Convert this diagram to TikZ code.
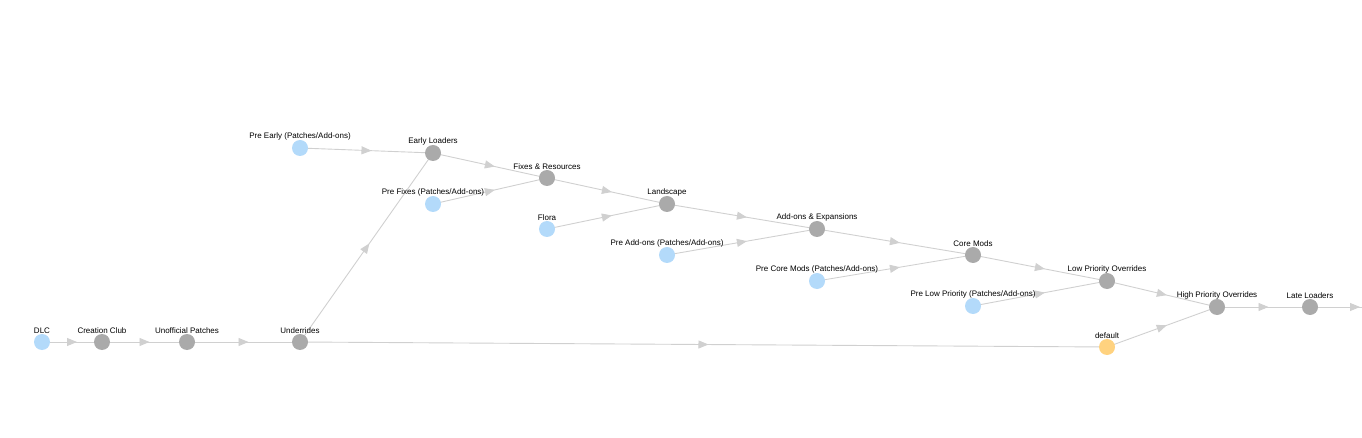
\documentclass[tikz,border=0pt]{standalone}
\usepackage{fontspec}
\setmainfont{Liberation Sans}
\usetikzlibrary{arrows.meta,decorations.markings}
\definecolor{nblue}{RGB}{179,218,250}
\definecolor{ngray}{RGB}{170,170,170}
\definecolor{norange}{RGB}{255,210,127}
\definecolor{edgec}{RGB}{208,208,208}
\begin{document}
\begin{tikzpicture}[x=1pt,y=-1pt,
  dot/.style={circle,minimum size=16pt,inner sep=0pt,draw=none},
  bdot/.style={dot,fill=nblue},
  gdot/.style={dot,fill=ngray},
  odot/.style={dot,fill=norange},
  lbl/.style={font=\fontsize{8pt}{9pt}\selectfont,inner sep=0pt,anchor=center},
  edge/.style={draw=edgec,line width=0.9pt,postaction={decorate},
    decoration={markings,mark=at position 0.5 with {\arrow[xshift=5pt]{Triangle[length=10pt,width=8pt,fill=edgec,color=edgec]}}}}
]
\useasboundingbox (0,0) rectangle (1362,438);
\clip (0,0) rectangle (1362,438);
% node positions
\coordinate (dlc) at (42,342);
\coordinate (cc) at (102,342);
\coordinate (up) at (187,342);
\coordinate (ud) at (300,342);
\coordinate (pe) at (300,148);
\coordinate (el) at (433,153);
\coordinate (pf) at (433,204);
\coordinate (fr) at (547,178);
\coordinate (fl) at (547,229);
\coordinate (ls) at (667,204);
\coordinate (pa) at (667,255);
\coordinate (ae) at (817,229);
\coordinate (pc) at (817,281);
\coordinate (cm) at (973,255);
\coordinate (pl) at (973,306);
\coordinate (lp) at (1107,281);
\coordinate (df) at (1107,347);
\coordinate (hp) at (1217,307);
\coordinate (ll) at (1310,307);
\coordinate (off) at (1400,307);
% edges
\path[edge] (dlc) -- (cc);
\path[edge] (cc) -- (up);
\path[edge] (up) -- (ud);
\path[edge] (ud) -- (el);
\path[edge] (ud) -- (df);
\path[edge] (pe) -- (el);
\path[edge] (el) -- (fr);
\path[edge] (pf) -- (fr);
\path[edge] (fr) -- (ls);
\path[edge] (fl) -- (ls);
\path[edge] (ls) -- (ae);
\path[edge] (pa) -- (ae);
\path[edge] (ae) -- (cm);
\path[edge] (pc) -- (cm);
\path[edge] (cm) -- (lp);
\path[edge] (pl) -- (lp);
\path[edge] (lp) -- (hp);
\path[edge] (df) -- (hp);
\path[edge] (hp) -- (ll);
\path[edge] (ll) -- (off);
% dots
\node[bdot] (ndlc) at (dlc) {};
\node[gdot] (ncc) at (cc) {};
\node[gdot] (nup) at (up) {};
\node[gdot] (nud) at (ud) {};
\node[bdot] (npe) at (pe) {};
\node[gdot] (nel) at (el) {};
\node[bdot] (npf) at (pf) {};
\node[gdot] (nfr) at (fr) {};
\node[bdot] (nfl) at (fl) {};
\node[gdot] (nls) at (ls) {};
\node[bdot] (npa) at (pa) {};
\node[gdot] (nae) at (ae) {};
\node[bdot] (npc) at (pc) {};
\node[gdot] (ncm) at (cm) {};
\node[bdot] (npl) at (pl) {};
\node[gdot] (nlp) at (lp) {};
\node[odot] (ndf) at (df) {};
\node[gdot] (nhp) at (hp) {};
\node[gdot] (nll) at (ll) {};
% labels
\node[lbl] (tdlc) at (42,330.5) {DLC};
\node[lbl] (tcc) at (102,330.5) {Creation Club};
\node[lbl] (tup) at (187,330.5) {Unofficial Patches};
\node[lbl] (tud) at (300,330.5) {Underrides};
\node[lbl] (tpe) at (300,136.5) {Pre Early (Patches/Add-ons)};
\node[lbl] (tel) at (433,141.5) {Early Loaders};
\node[lbl] (tpf) at (433,192.5) {Pre Fixes (Patches/Add-ons)};
\node[lbl] (tfr) at (547,166.5) {Fixes \& Resources};
\node[lbl] (tfl) at (547,217.5) {Flora};
\node[lbl] (tls) at (667,192.5) {Landscape};
\node[lbl] (tpa) at (667,243.5) {Pre Add-ons (Patches/Add-ons)};
\node[lbl] (tae) at (817,217.5) {Add-ons \& Expansions};
\node[lbl] (tpc) at (817,269.5) {Pre Core Mods (Patches/Add-ons)};
\node[lbl] (tcm) at (973,243.5) {Core Mods};
\node[lbl] (tpl) at (973,294.5) {Pre Low Priority (Patches/Add-ons)};
\node[lbl] (tlp) at (1107,269.5) {Low Priority Overrides};
\node[lbl] (tdf) at (1107,335.5) {default};
\node[lbl] (thp) at (1217,295.5) {High Priority Overrides};
\node[lbl] (tll) at (1310,295.5) {Late Loaders};
\end{tikzpicture}
\end{document}
